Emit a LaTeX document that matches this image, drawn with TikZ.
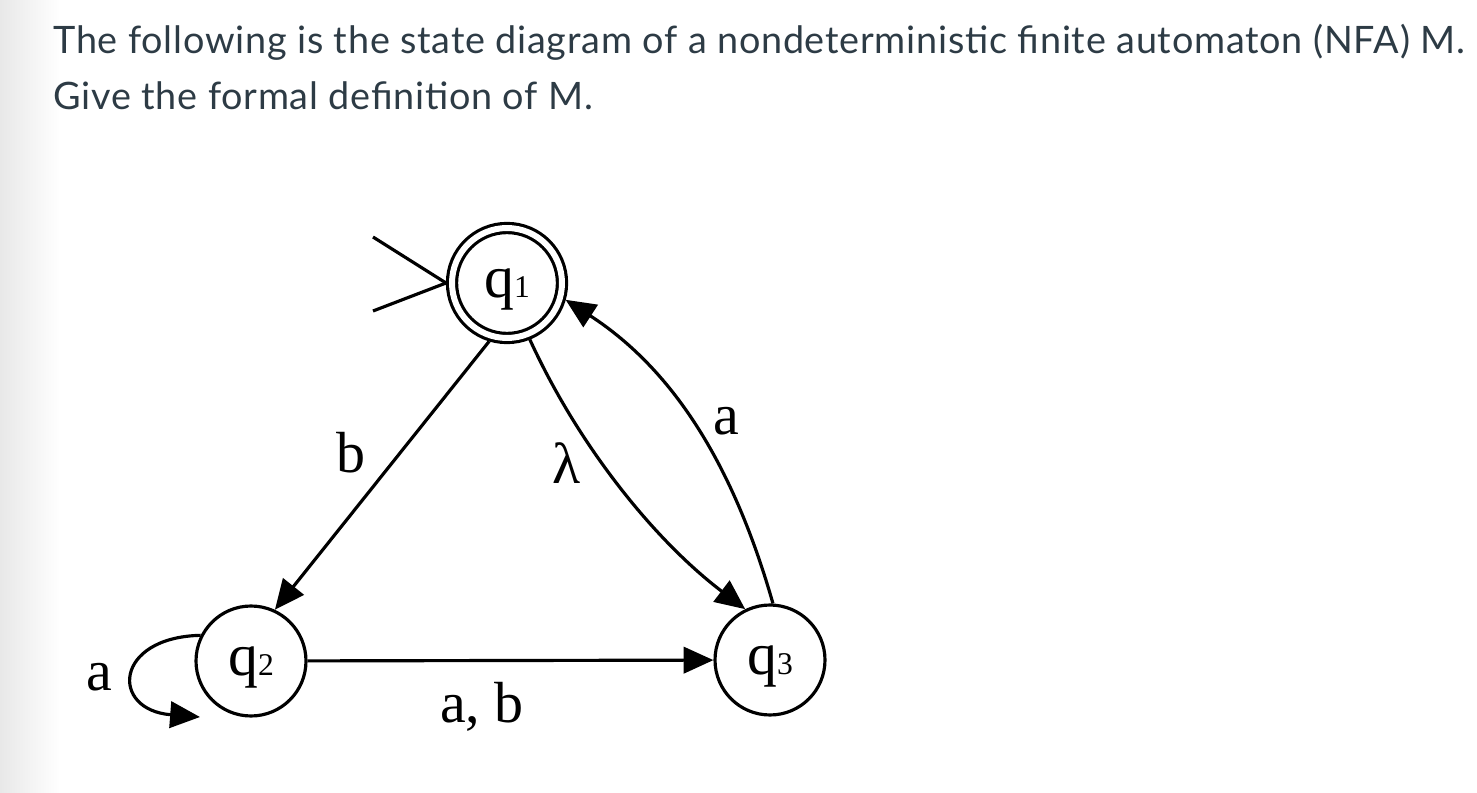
\documentclass[tikz,border=0pt]{standalone}
\usepackage{fontspec}
\setmainfont{Liberation Serif}
\newfontfamily\latofont[LetterSpace=2]{Lato}
\definecolor{canvastext}{HTML}{2D3B45}
\usetikzlibrary{arrows.meta}
\newcommand{\stlabel}[1]{q{\fontsize{18}{20}\selectfont #1}}
\tikzset{
  nfastate/.style={circle, draw, line width=1.8pt, minimum size=2.2cm, inner sep=0pt,
    text depth=0pt, font=\fontsize{34}{40}\selectfont},
  acceptstate/.style={nfastate, double, double distance=0.12cm, outer sep=0.12cm},
  trans/.style={line width=1.8pt, -{Triangle[length=17pt,width=15pt]}},
  initline/.style={line width=1.8pt},
  translabel/.style={font=\fontsize{33}{40}\selectfont, anchor=base, inner sep=0pt},
  headline/.style={font=\latofont\fontsize{21.5}{24}\selectfont, text=canvastext,
    anchor=base west, inner sep=0pt}
}
\begin{document}
\begin{tikzpicture}[x=0.02cm, y=-0.02cm]
  \useasboundingbox (0,0) rectangle (1477,793);
  % page strip on the left
  \shade[left color=black!9, right color=white] (0,0) rectangle (60,793);
  % question text
  \node[headline] (line1) at (53,54) {The following is the state diagram of a nondeterministic finite automaton (NFA) M.};
  \node[headline] (line2) at (53,110) {Give the formal definition of M.};
  % states
  \node[acceptstate] (q1) at (507,283) {\stlabel{1}};
  \node[nfastate] (q2) at (251,661) {\stlabel{2}};
  \node[nfastate] (q3) at (770,660) {\stlabel{3}};
  % start marker
  \coordinate (init1) at (373,237);
  \coordinate (init2) at (373,311);
  \draw[initline] (init1) -- (q1.west);
  \draw[initline] (init2) -- (q1.west);
  % transitions
  \draw[trans] (q1.-107) -- (q2.65);
  \draw[trans] (q1.-68) .. controls +(48,105) and +(-92,-70) .. (q3.116);
  \draw[trans] (q3.87) .. controls +(-38,-133) and +(111,72) .. (q1.-16);
  \draw[trans] (q2) -- (q3);
  \coordinate (loopend) at (200,717);
  \draw[trans] (q2.153) .. controls +(-87,2) and +(-90,-7) .. (loopend);
  % labels
  \node[translabel] (lb) at (351,473) {b};
  \node[translabel] (llambda) at (567,483) {λ};
  \node[translabel] (la1) at (726,435) {a};
  \node[translabel] (la2) at (99,690) {a};
  \node[translabel] (lab) at (482,722) {a, b};
\end{tikzpicture}
\end{document}
